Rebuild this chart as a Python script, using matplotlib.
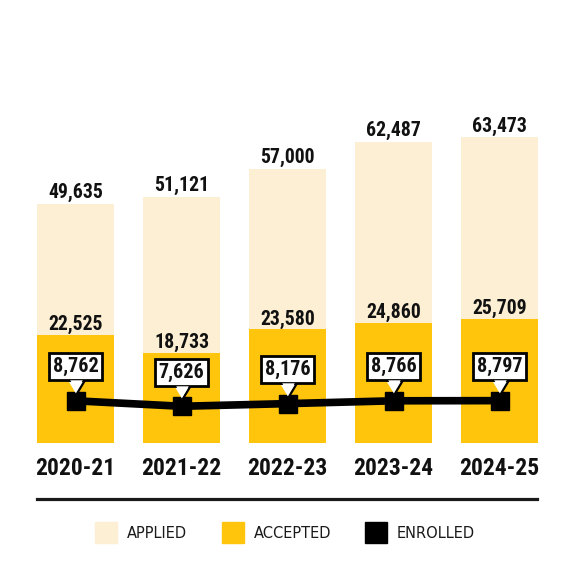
import matplotlib
matplotlib.use("Agg")
import matplotlib.pyplot as plt
from matplotlib.patches import Rectangle
import matplotlib.transforms as mtransforms
from matplotlib import font_manager as fm

years = ["2020-21", "2021-22", "2022-23", "2023-24", "2024-25"]
applied = [49635, 51121, 57000, 62487, 63473]
accepted = [22525, 18733, 23580, 24860, 25709]
enrolled = [8762, 7626, 8176, 8766, 8797]
legend_labels = ["APPLIED", "ACCEPTED", "ENROLLED"]

C_APPLIED = "#FCEFD3"
C_ACCEPTED = "#FFC50D"
C_ENROLLED = "#000000"


def available(name):
    try:
        fm.findfont(fm.FontProperties(family=name), fallback_to_default=False)
        return True
    except Exception:
        return False


NARROW = None
for cand in ["Roboto Condensed", "Liberation Sans Narrow", "DejaVu Sans Condensed",
             "Open Sans Condensed", "Roboto", "Liberation Sans", "DejaVu Sans"]:
    if available(cand):
        NARROW = cand
        break

DPI = 100
fig = plt.figure(figsize=(5.75, 5.75), dpi=DPI)
fig.patch.set_facecolor("white")
ax = fig.add_axes([0, 0, 1, 1])
ax.set_axis_off()
renderer = fig.canvas.get_renderer()


def fit_size(sample, target_w, max_size):
    t = fig.text(0, 0, sample, fontsize=max_size, fontweight="bold", family=NARROW)
    w = t.get_window_extent(renderer).width
    t.remove()
    return min(max_size, max_size * target_w / w)


SZ_VAL = fit_size("49,635", 55, 15.5)
SZ_YEAR = fit_size("2020-21", 80, 22)
SZ_CALL = fit_size("8,797", 46, 16.5)

# pixel mapping: bar centers at 75.5 + 106*i, baseline at y=443 px
px_per_unit = 0.004815
ax.set_xlim(-75.5 / 106, (575 - 75.5) / 106)
ax.set_ylim(-(575 - 443) / px_per_unit, 443 / px_per_unit)

x = list(range(len(years)))
bw = 77 / 106
ax.bar(x, applied, width=bw, color=C_APPLIED, zorder=1)
ax.bar(x, accepted, width=bw, color=C_ACCEPTED, zorder=2)
ax.plot(x, enrolled, color=C_ENROLLED, lw=5.5, marker="s", ms=12.5, zorder=3,
        solid_capstyle="butt")

pt = 72 / DPI  # points per pixel

for i in x:
    ax.annotate(f"{applied[i]:,}", (i, applied[i]), xytext=(0, 6 * pt),
                textcoords="offset points", ha="center", va="baseline",
                fontsize=SZ_VAL, fontweight="bold", family=NARROW, color="#111111")
    ax.annotate(f"{accepted[i]:,}", (i, accepted[i]), xytext=(0, 5 * pt),
                textcoords="offset points", ha="center", va="baseline",
                fontsize=SZ_VAL, fontweight="bold", family=NARROW, color="#111111")
    ax.annotate(years[i], (i, 0), xytext=(0, -32 * pt),
                textcoords="offset points", ha="center", va="baseline",
                fontsize=SZ_YEAR, fontweight="bold", family=NARROW, color="#111111")

# callout boxes for enrolled
tri = [(-6, 5), (6, 5), (0, -5)]
off_tri = ax.transData + mtransforms.ScaledTranslation(0, 14 / DPI, fig.dpi_scale_trans)
ax.plot(x, enrolled, ls="none", marker=tri, ms=12, mfc="white", mec="black",
        mew=1.6, transform=off_tri, zorder=4)
for i in x:
    ax.annotate(f"{enrolled[i]:,}", (i, enrolled[i]), xytext=(0, 34 * pt),
                textcoords="offset points", ha="center", va="center",
                fontsize=SZ_CALL, fontweight="bold", family=NARROW, color="#111111",
                bbox=dict(boxstyle="square,pad=0.2", fc="white", ec="black", lw=2),
                zorder=5)
off_tri2 = ax.transData + mtransforms.ScaledTranslation(0, 15.5 / DPI, fig.dpi_scale_trans)
ax.plot(x, enrolled, ls="none", marker=tri, ms=9, mfc="white", mec="none",
        transform=off_tri2, zorder=6)

W = H = 575.0


def fx(px):
    return px / W


def fy(py):
    return 1 - py / H


fig.add_artist(plt.Line2D([fx(37), fx(537)], [fy(499), fy(499)], color="#1a1a1a",
                          lw=2.3, transform=fig.transFigure))

# legend
patch_x = [95, 222, 365]
text_x = [127, 254, 397]
colors = [C_APPLIED, C_ACCEPTED, C_ENROLLED]
for px_, tx_, c, lab in zip(patch_x, text_x, colors, legend_labels):
    fig.add_artist(Rectangle((fx(px_), fy(543)), 22 / W, 21 / H, color=c,
                             transform=fig.transFigure))
    fig.text(fx(tx_), fy(533), lab, ha="left", va="center", fontsize=10.5,
             family="DejaVu Sans", color="#1a1a1a")

fig.savefig("out.png", dpi=DPI, facecolor="white")
